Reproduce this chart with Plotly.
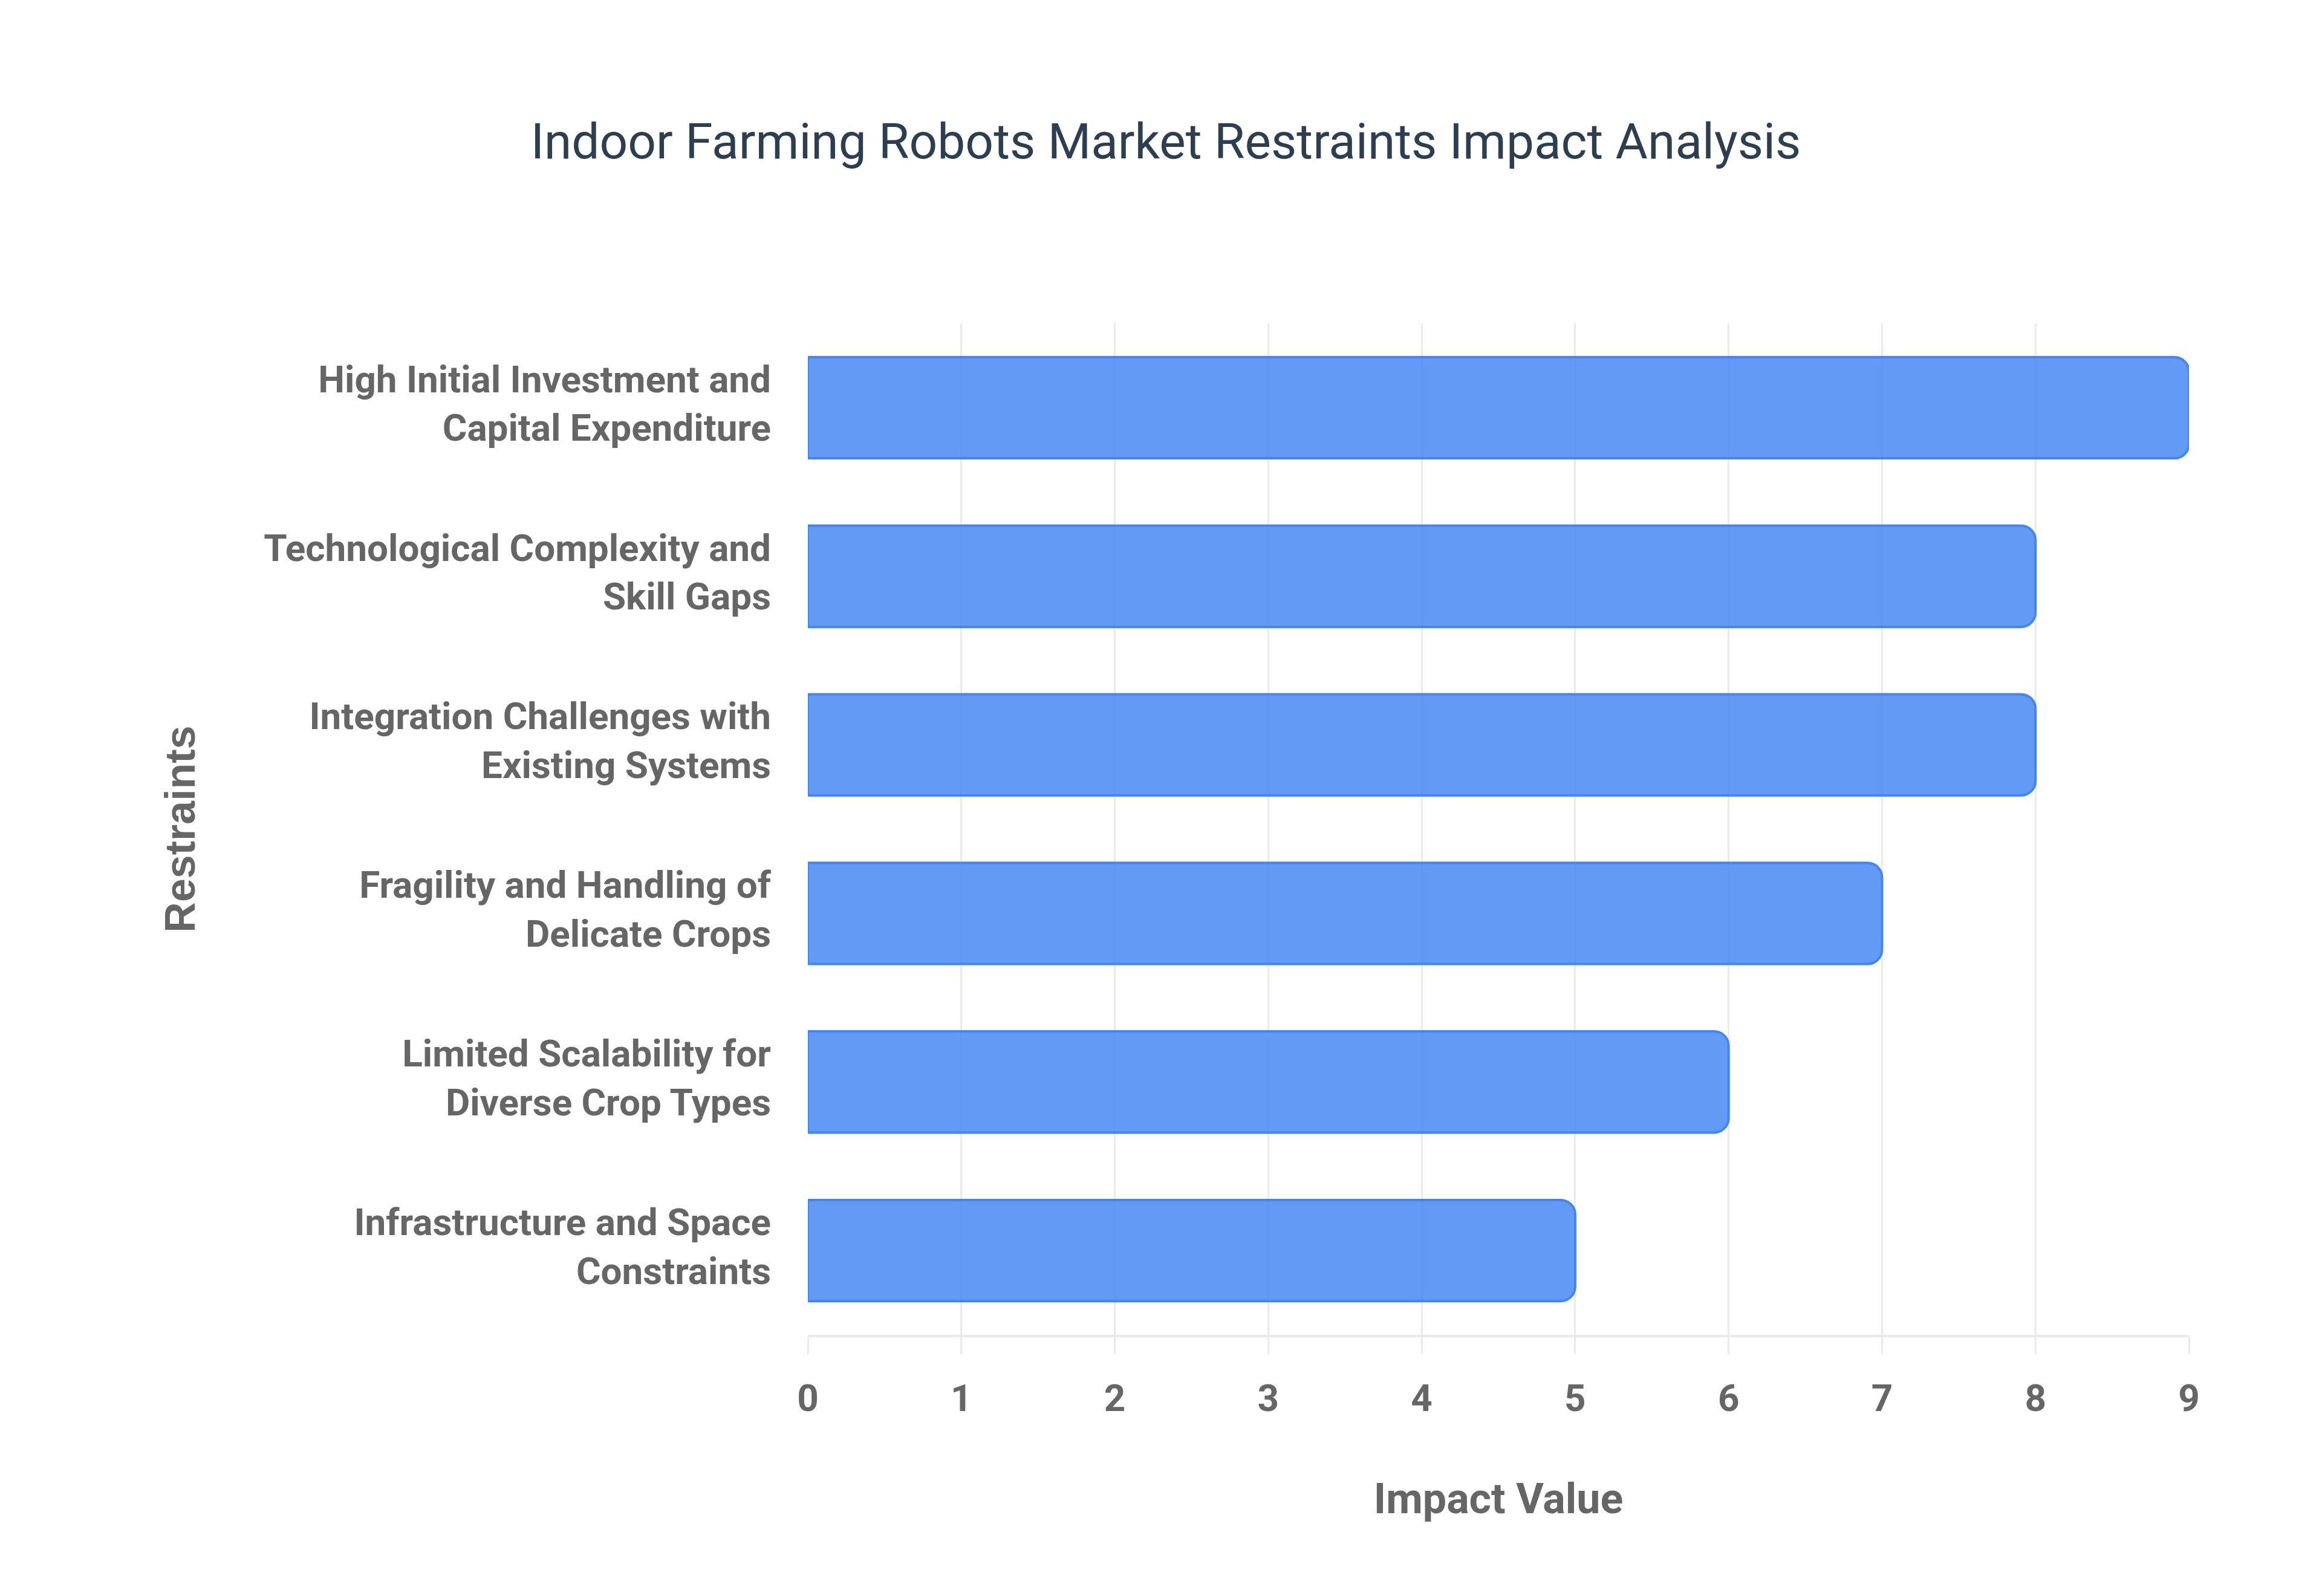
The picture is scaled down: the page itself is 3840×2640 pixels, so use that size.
import plotly.graph_objects as go

# restraints, top to bottom as shown
restraints = [
    "High Initial Investment and<br>Capital Expenditure",
    "Technological Complexity and<br>Skill Gaps",
    "Integration Challenges with<br>Existing Systems",
    "Fragility and Handling of<br>Delicate Crops",
    "Limited Scalability for<br>Diverse Crop Types",
    "Infrastructure and Space<br>Constraints",
]
impact = [9, 8, 8, 7, 6, 5]
x_ticks = [0, 1, 2, 3, 4, 5, 6, 7, 8, 9]

grid = "#ebebeb"
label_gray = "#666666"

fig = go.Figure()

fig.add_trace(go.Bar(
    x=impact,
    y=restraints,
    orientation="h",
    width=0.6,
    marker=dict(
        color="rgba(66,133,244,0.83)",
        line=dict(color="#4285F4", width=4),
        cornerradius=24,
    ),
    hoverinfo="x+y",
    showlegend=False,
))

fig.update_layout(
    width=3840,
    height=2640,
    paper_bgcolor="white",
    plot_bgcolor="white",
    margin=dict(l=1328, r=228, t=527, b=440),
    title=dict(
        text="Indoor Farming Robots Market Restraints Impact Analysis",
        font=dict(family="Roboto, Arial, sans-serif", size=82, color="#2c3e50"),
        x=0.5, xref="container", xanchor="center",
        y=1 - 225 / 2640, yref="container", yanchor="middle",
    ),
)

fig.update_xaxes(
    range=[0, 9],
    tickvals=x_ticks,
    showgrid=True, gridcolor=grid, gridwidth=3,
    zeroline=False,
    showline=True, linecolor=grid, linewidth=4,
    ticks="outside", ticklen=28, tickcolor=grid, tickwidth=3,
    tickfont=dict(family="Roboto, Arial, sans-serif", size=62, color=label_gray, weight="bold"),
    ticklabelstandoff=20,
    title=dict(
        text="Impact Value",
        font=dict(family="Roboto, Arial, sans-serif", size=70, color=label_gray, weight="bold"),
        standoff=107,
    ),
    automargin=False,
)

fig.update_yaxes(
    autorange="reversed",
    showgrid=False,
    zeroline=False,
    showline=False,
    ticks="",
    tickfont=dict(family="Roboto, Arial, sans-serif", size=62, color=label_gray, weight="bold"),
    ticklabelstandoff=60,
    ticklabelshift=7,
    title=dict(
        text="Restraints",
        font=dict(family="Liberation Sans, Arial, sans-serif", size=70, color=label_gray, weight="bold"),
        standoff=90,
    ),
    automargin=False,
)

fig.write_html("out.html")
